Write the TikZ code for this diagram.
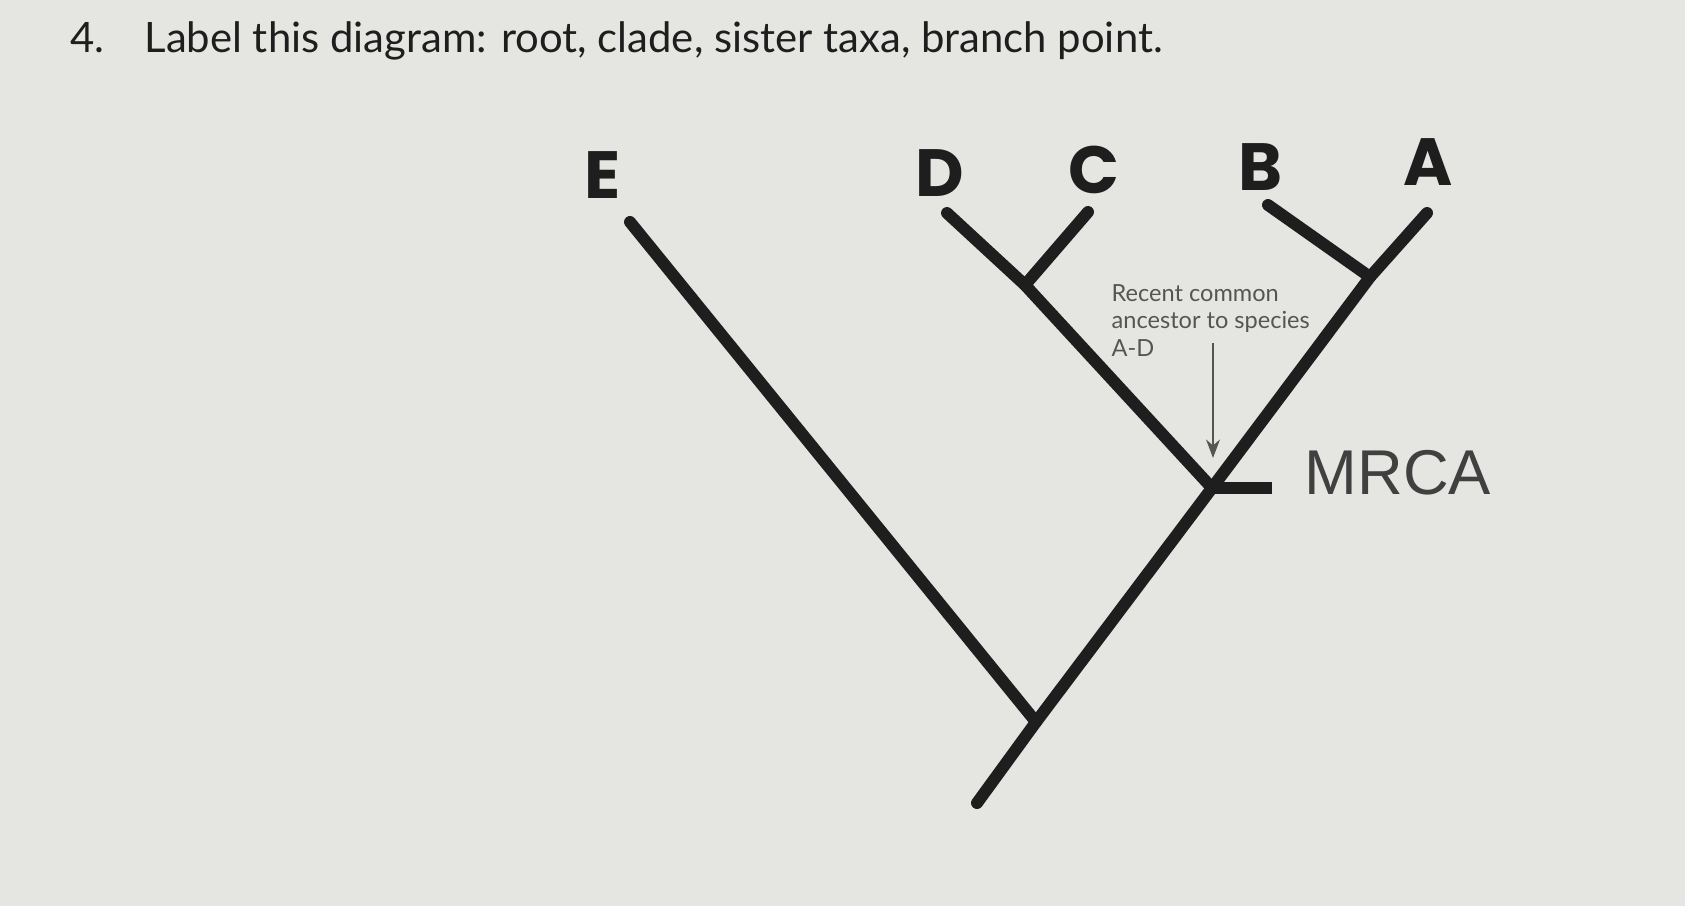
\documentclass[tikz,border=0pt]{standalone}
\usepackage{fontspec}
\setmainfont{Poppins}
\newfontfamily\titlefont{Lato}
\newfontfamily\notefont{Lato}
\newfontfamily\handfont{Liberation Sans}
\usetikzlibrary{arrows.meta}
\definecolor{paper}{RGB}{229,229,226}
\definecolor{ink}{RGB}{30,30,30}
\definecolor{pencil}{RGB}{85,85,85}
\tikzset{
  branch/.style={draw=ink,line width=3.4pt,line cap=round},
  taxon/.style={font=\bfseries\fontsize{19}{19}\selectfont,text=ink,inner sep=0pt},
}
\begin{document}
\begin{tikzpicture}[x=0.01cm,y=-0.01cm,>=Stealth]
\fill[paper] (0,0) rectangle (1685,906);
\node[anchor=base west,inner sep=0pt,text=ink,font=\titlefont\fontsize{11.9}{11.9}\selectfont] (title) at (70,52)
  {4.\hspace{0.95em}Label this diagram: root, clade, sister taxa, branch point.};
\node[taxon] (labE) at (603,175) {E};
\node[taxon] (labD) at (940,173) {D};
\node[taxon] (labC) at (1094,170) {C};
\node[taxon] (labB) at (1260,167) {B};
\node[taxon] (labA) at (1428,162) {A};
\coordinate (tipE) at (630,222);
\coordinate (tipD) at (947,213);
\coordinate (tipC) at (1088,212);
\coordinate (tipB) at (1268,205);
\coordinate (tipA) at (1427,213);
\coordinate (dc) at (1025,285);
\coordinate (ab) at (1370,277);
\coordinate (mrca) at (1212,488);
\coordinate (rootnode) at (1036,722);
\coordinate (root) at (977,803);
\coordinate (tick) at (1272,488);
\draw[branch] (root)--(rootnode)--(mrca)--(ab)--(tipA);
\draw[branch] (tipE)--(rootnode);
\draw[branch] (tipD)--(dc)--(mrca);
\draw[branch] (tipC)--(dc);
\draw[branch] (tipB)--(ab);
\draw[branch,line cap=butt] (mrca)--(tick);
\node[anchor=base west,inner sep=0pt,align=left,text=pencil,
  font=\notefont\fontsize{6.7}{7.8}\selectfont] (note) at (1111,356)
  {Recent common\\ancestor to species\\A-D};
\coordinate (arrtop) at (1213,343);
\coordinate (arrtip) at (1213,458);
\draw[->,pencil,line width=0.5pt] (arrtop)--(arrtip);
\node[anchor=base west,inner sep=0pt,text=ink!85,font=\handfont\fontsize{18}{18}\selectfont] (mrcalab) at (1304,494) {MRCA};
\end{tikzpicture}
\end{document}
